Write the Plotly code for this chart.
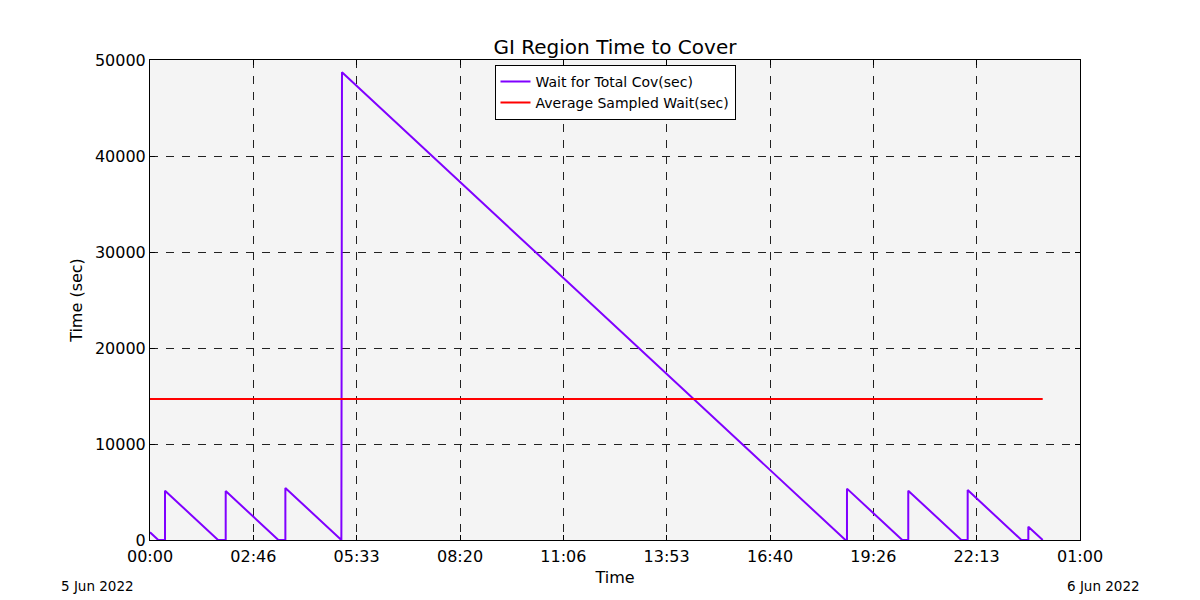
import datetime as dt
import plotly.graph_objects as go

# ---- data ----
wait_times = [
    "2022-06-05 00:00:00", "2022-06-05 00:13:23", "2022-06-05 00:24:12",
    "2022-06-05 00:24:12", "2022-06-05 01:49:47", "2022-06-05 02:02:06",
    "2022-06-05 02:02:06", "2022-06-05 03:27:06", "2022-06-05 03:38:20",
    "2022-06-05 03:38:20", "2022-06-05 05:08:40", "2022-06-05 05:09:40",
    "2022-06-05 18:41:40", "2022-06-05 18:44:10", "2022-06-05 18:44:10",
    "2022-06-05 20:13:20", "2022-06-05 20:23:00", "2022-06-05 20:23:00",
    "2022-06-05 21:48:35", "2022-06-05 21:58:50", "2022-06-05 21:58:50",
    "2022-06-05 23:25:30", "2022-06-05 23:36:40", "2022-06-05 23:36:40",
    "2022-06-05 23:59:50",
]
wait_values = [
    800, 0, 0,
    5135, 0, 0,
    5100, 0, 0,
    5420, 0, 48720,
    0, 0, 5350,
    0, 0, 5135,
    0, 0, 5200,
    0, 0, 1390,
    0,
]
avg_times = ["2022-06-05 00:00:00", "2022-06-05 23:59:50"]
avg_values = [14690, 14690]

x_start = "2022-06-05 00:00:00"
x_end = "2022-06-06 01:00:00"
tick_step_sec = 10000
tick_labels = ["00:00", "02:46", "05:33", "08:20", "11:06", "13:53",
               "16:40", "19:26", "22:13", "01:00"]
y_ticks = [0, 10000, 20000, 30000, 40000, 50000]
date_labels = ["5 Jun 2022", "6 Jun 2022"]

t0 = dt.datetime.fromisoformat(x_start)
tick_vals = [t0 + dt.timedelta(seconds=i * tick_step_sec) for i in range(len(tick_labels))]

FONT = "DejaVu Sans"
GRID = "#222222"

fig = go.Figure()
fig.add_trace(go.Scatter(
    x=wait_times, y=wait_values, mode="lines",
    name="Wait for Total Cov(sec)",
    line=dict(color="#8000ff", width=2),
))
fig.add_trace(go.Scatter(
    x=avg_times, y=avg_values, mode="lines",
    name="Average Sampled Wait(sec)",
    line=dict(color="#ff0000", width=2),
))

fig.update_layout(
    width=1200, height=600,
    margin=dict(l=150, r=120, t=60, b=60),
    paper_bgcolor="white",
    plot_bgcolor="#f4f4f4",
    font=dict(family=FONT, size=16, color="black"),
    title=dict(text="GI Region Time to Cover", x=615 / 1200, xanchor="center",
               y=1 - 47 / 600, yanchor="middle", font=dict(size=20)),
    showlegend=True,
    legend=dict(
        x=0.5, xanchor="center", y=0.99, yanchor="top",
        bgcolor="white", bordercolor="black", borderwidth=1,
        font=dict(size=14), tracegroupgap=0, itemwidth=30,
    ),
    annotations=[
        dict(text=date_labels[0], xref="paper", yref="paper",
             x=(97 - 150) / 930, y=-46 / 480, xanchor="center", yanchor="middle",
             showarrow=False, font=dict(size=13.5)),
        dict(text=date_labels[1], xref="paper", yref="paper",
             x=(1103 - 150) / 930, y=-46 / 480, xanchor="center", yanchor="middle",
             showarrow=False, font=dict(size=13.5)),
    ],
)

fig.update_xaxes(
    type="date", range=[x_start, x_end],
    tickvals=tick_vals, ticktext=tick_labels,
    showgrid=True, gridcolor=GRID, griddash="8px,8px", gridwidth=1,
    showline=True, linecolor="black", linewidth=1, mirror="ticks",
    ticks="inside", ticklen=5, tickcolor="black", zeroline=False,
    ticklabelstandoff=2,
    title=dict(text="Time", standoff=6, font=dict(size=16)),
)
fig.update_yaxes(
    range=[0, 50000], tickvals=y_ticks, ticktext=[str(v) for v in y_ticks],
    showgrid=True, gridcolor=GRID, griddash="8px,8px", gridwidth=1,
    showline=True, linecolor="black", linewidth=1, mirror="ticks",
    ticks="inside", ticklen=5, tickcolor="black", zeroline=False,
    title=dict(text="Time (sec)", standoff=8, font=dict(size=16)),
)

fig.write_html("out.html")
